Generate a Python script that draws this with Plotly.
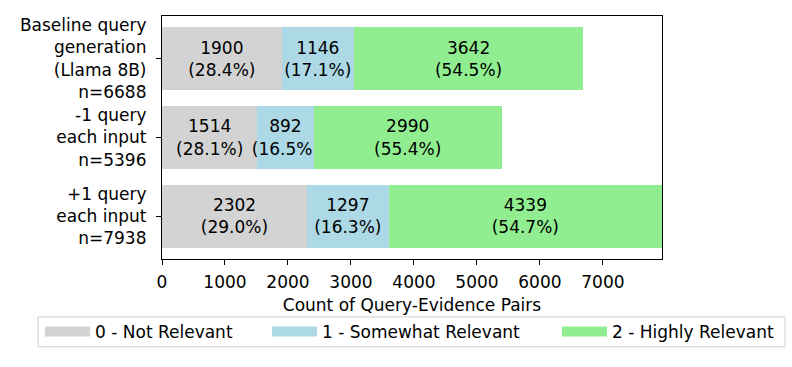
import plotly.graph_objects as go

categories = ["Baseline query<br>generation<br>(Llama 8B)<br>n=6688",
              "-1 query<br>each input<br>n=5396",
              "+1 query<br>each input<br>n=7938"]
series_names = ["0 - Not Relevant", "1 - Somewhat Relevant", "2 - Highly Relevant"]
not_relevant = [1900, 1514, 2302]
somewhat_relevant = [1146, 892, 1297]
highly_relevant = [3642, 2990, 4339]
pct_not = ["28.4%", "28.1%", "29.0%"]
pct_some = ["17.1%", "16.5%", "16.3%"]
pct_high = ["54.5%", "55.4%", "54.7%"]
colors = ["#d3d3d3", "#add8e6", "#90ee90"]
x_ticks = [0, 1000, 2000, 3000, 4000, 5000, 6000, 7000]
x_max = 7938

FONT = "DejaVu Sans"
FS = 17
W, H = 792, 367
L, R, T, B = 162, 130, 16, 107.5
PW, PH = W - L - R, H - T - B


def px_to_paper_x(px):
    return (px - L) / PW


def px_to_paper_y(py):
    return (H - B - py) / PH


fig = go.Figure()
for name, vals, pcts, col in zip(series_names,
                                 [not_relevant, somewhat_relevant, highly_relevant],
                                 [pct_not, pct_some, pct_high], colors):
    fig.add_trace(go.Bar(
        y=list(range(len(categories))), x=vals, orientation="h", name=name,
        marker=dict(color=col, line=dict(width=0)),
        customdata=pcts,
        texttemplate="%{x}<br>(%{customdata})",
        textposition="inside", insidetextanchor="middle", textangle=0,
        textfont=dict(family=FONT, size=FS, color="black"),
        cliponaxis=False, width=0.8, showlegend=False,
    ))

# legend entries (wide colour swatches), one legend per entry for matplotlib-like spacing
legend_ids = ["legend", "legend2", "legend3"]
legend_px = [40, 267, 557]
for name, col, lid in zip(series_names, colors, legend_ids):
    fig.add_trace(go.Scatter(x=[None], y=[None], mode="lines", name=name,
                             line=dict(color=col, width=12), showlegend=True,
                             legend=lid))

legend_common = dict(orientation="h", xanchor="left", yanchor="middle",
                     bgcolor="rgba(0,0,0,0)", borderwidth=0,
                     font=dict(family=FONT, size=FS), itemwidth=45)
layout_legends = {}
for lid, lx in zip(legend_ids, legend_px):
    layout_legends[lid] = dict(legend_common, x=px_to_paper_x(lx), y=px_to_paper_y(332.5))

fig.update_layout(
    barmode="stack",
    width=W, height=H,
    margin=dict(l=L, r=R, t=T, b=B, autoexpand=False),
    paper_bgcolor="white", plot_bgcolor="white",
    font=dict(family=FONT, size=FS, color="black"),
    uniformtext=dict(minsize=FS, mode="show"),
    bargap=0.2,
    shapes=[dict(type="rect", xref="paper", yref="paper",
                 x0=px_to_paper_x(38), x1=px_to_paper_x(785),
                 y0=px_to_paper_y(317.5), y1=px_to_paper_y(347.5),
                 line=dict(color="#d0d0d0", width=1), fillcolor="rgba(0,0,0,0)",
                 layer="below")],
    **layout_legends,
)
fig.update_xaxes(range=[0, x_max], tickvals=x_ticks, ticks="outside", ticklen=5,
                 tickcolor="black", showline=True, linecolor="black", linewidth=1.2,
                 mirror=True, showgrid=False, zeroline=False, automargin=False,
                 ticklabelstandoff=2,
                 title=dict(text="Count of Query-Evidence Pairs", standoff=8,
                            font=dict(family=FONT, size=FS)))
fig.update_yaxes(range=[2.54, -0.54], tickvals=list(range(len(categories))),
                 ticktext=categories, ticks="outside", ticklen=5, tickcolor="black",
                 showline=True, linecolor="black", linewidth=1.2, mirror=True,
                 showgrid=False, zeroline=False, automargin=False,
                 ticklabelstandoff=6)

fig.write_html("out.html", config={"displayModeBar": False},
               post_script="document.body.style.margin='0px';document.body.style.overflow='hidden';")
